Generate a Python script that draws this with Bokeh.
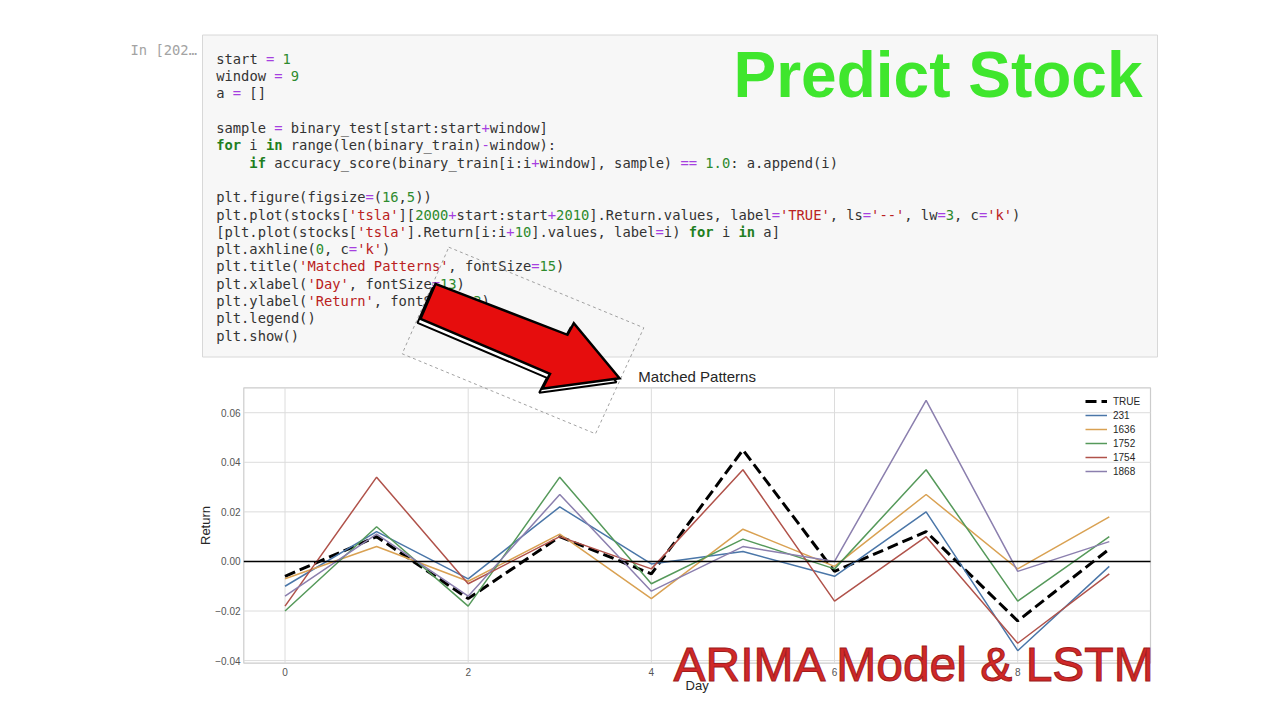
import re
import math
from bokeh.plotting import figure
from bokeh.models import Range1d, ColumnDataSource, Grid
from bokeh.core.properties import value
from bokeh.embed import file_html
from bokeh.resources import INLINE

# ---------------- data ----------------
days = list(range(10))
true_ret = [-0.006, 0.010, -0.015, 0.010, -0.005, 0.045, -0.004, 0.012, -0.024, 0.005]
ret_231 = [-0.010, 0.012, -0.007, 0.022, -0.001, 0.004, -0.006, 0.020, -0.036, -0.002]
ret_1636 = [-0.007, 0.006, -0.008, 0.011, -0.015, 0.013, -0.002, 0.027, -0.003, 0.018]
ret_1752 = [-0.020, 0.014, -0.018, 0.034, -0.009, 0.009, -0.003, 0.037, -0.016, 0.010]
ret_1754 = [-0.018, 0.034, -0.009, 0.010, -0.003, 0.037, -0.016, 0.010, -0.033, -0.005]
ret_1868 = [-0.014, 0.011, -0.014, 0.027, -0.012, 0.006, 0.000, 0.065, -0.004, 0.008]
pattern_labels = ["231", "1636", "1752", "1754", "1868"]
pattern_values = [ret_231, ret_1636, ret_1752, ret_1754, ret_1868]
pattern_colors = ["#4a76a8", "#d9a152", "#55995a", "#b0524a", "#8b7fae"]

x_ticks = [0, 2, 4, 6, 8]
x_tick_labels = ["0", "2", "4", "6", "8"]
y_ticks = [-0.04, -0.02, 0.0, 0.02, 0.04, 0.06]
y_tick_labels = ["\u22120.04", "\u22120.02", "0.00", "0.02", "0.04", "0.06"]

chart_title = "Matched Patterns"
x_label = "Day"
y_label = "Return"
headline = "Predict Stock"
footer = "ARIMA Model & LSTM"
prompt = "In [202\u2026"

code_lines = [
    "start = 1",
    "window = 9",
    "a = []",
    "",
    "sample = binary_test[start:start+window]",
    "for i in range(len(binary_train)-window):",
    "    if accuracy_score(binary_train[i:i+window], sample) == 1.0: a.append(i)",
    "",
    "plt.figure(figsize=(16,5))",
    "plt.plot(stocks['tsla'][2000+start:start+2010].Return.values, label='TRUE', ls='--', lw=3, c='k')",
    "[plt.plot(stocks['tsla'].Return[i:i+10].values, label=i) for i in a]",
    "plt.axhline(0, c='k')",
    "plt.title('Matched Patterns', fontSize=15)",
    "plt.xlabel('Day', fontSize=13)",
    "plt.ylabel('Return', fontSize=13)",
    "plt.legend()",
    "plt.show()",
]

# ---------------- layout (page pixels) ----------------
W, H = 1264, 704
PL, PT = 0, 0                     # where the canvas lands in the screenshot
AX_L, AX_R, AX_T, AX_B = 243.3, 1150.0, 387.3, 662.7

all_vals = true_ret + sum(pattern_values, [])
lo, hi = min(all_vals), max(all_vals)
ypad = 0.05 * (hi - lo)
ymin, ymax = lo - ypad, hi + ypad
xpad = 0.05 * (days[-1] - days[0])
xmin, xmax = days[0] - xpad, days[-1] + xpad

kx = (AX_R - AX_L) / (xmax - xmin)   # px per x unit
ky = (AX_B - AX_T) / (ymax - ymin)   # px per y unit
x_start = xmin - (AX_L - PL) / kx
x_end = xmax + (PL + W - AX_R) / kx
y_end = ymax + (AX_T - PT) / ky
y_start = ymin - (PT + H - AX_B) / ky

p = figure(width=W, height=H, x_range=Range1d(x_start, x_end), y_range=Range1d(y_start, y_end),
           output_backend="svg", toolbar_location=None,
           x_axis_location=None, y_axis_location=None, min_border=0,
           outline_line_color=None, background_fill_color="white", border_fill_color="white")
p.center = [r for r in p.center if not isinstance(r, Grid)]
p.extra_x_ranges = {"px": Range1d(PL, PL + W)}
p.extra_y_ranges = {"px": Range1d(PT + H, PT)}
PX = dict(x_range_name="px", y_range_name="px")

# ---------------- code cell ----------------
p.quad(left=202, right=1157, top=34.5, bottom=356.5, fill_color="#f7f7f7",
       line_color="#d8d8d8", line_width=1, **PX)
p.text(x=[130], y=[49], text=[prompt], text_font=value("DejaVu Sans Mono"),
       text_font_size="13.8px", text_color="#a3a3a3", text_baseline="middle", **PX)

CODE_X0, CH, CODE_Y0, DY = 215.7, 8.29, 58.3, 17.3
tok_re = re.compile(r"'[^']*'|\d+(?:\.\d+)?|==|[A-Za-z_]\w*|\s+|.")
KW = {"for", "in", "if"}
norm = dict(x=[], y=[], t=[], c=[])
bold = dict(x=[], y=[], t=[], c=[])
for row, line in enumerate(code_lines):
    for m in tok_re.finditer(line):
        tok = m.group(0)
        if tok.isspace():
            continue
        target = norm
        if tok.startswith("'"):
            col = "#ba2121"
        elif re.fullmatch(r"\d+(?:\.\d+)?", tok):
            col = "#2e8b2e"
        elif tok in KW:
            col = "#1f7f1f"
            target = bold
        elif tok in ("=", "==", "+", "-"):
            col = "#a640e0"
        else:
            col = "#333333"
        target["x"].append(CODE_X0 + m.start() * CH)
        target["y"].append(CODE_Y0 + row * DY)
        target["t"].append(tok)
        target["c"].append(col)

p.text(x="x", y="y", text="t", text_color="c", source=ColumnDataSource(norm),
       text_font=value("DejaVu Sans Mono"), text_font_size="13.8px",
       text_baseline="middle", **PX)
p.text(x="x", y="y", text="t", text_color="c", source=ColumnDataSource(bold),
       text_font=value("DejaVu Sans Mono"), text_font_size="13.8px", text_font_style="bold",
       text_baseline="middle", **PX)

p.text(x=[733], y=[74.5], text=[headline], text_font=value("Liberation Sans"),
       text_font_style="bold", text_font_size="64px", text_color="#3fe62d",
       text_baseline="middle", **PX)

# ---------------- chart ----------------
p.quad(left=xmin, right=xmax, bottom=ymin, top=ymax, fill_color="white",
       line_color="#cccccc", line_width=1.2)
p.segment(x0=x_ticks, y0=[ymin] * len(x_ticks), x1=x_ticks, y1=[ymax] * len(x_ticks),
          line_color="#dcdcdc", line_width=1)
p.segment(x0=[xmin] * len(y_ticks), y0=y_ticks, x1=[xmax] * len(y_ticks), y1=y_ticks,
          line_color="#dcdcdc", line_width=1)

p.line(days, true_ret, line_color="black", line_width=3, line_dash="11 5", legend_label="TRUE")
for lab, vals, col in zip(pattern_labels, pattern_values, pattern_colors):
    p.line(days, vals, line_color=col, line_width=1.5, legend_label=lab)
p.segment(x0=[xmin], y0=[0], x1=[xmax], y1=[0], line_color="black", line_width=1.5)

TICK_FONT = value("Liberation Sans")
p.text(x=x_ticks, y=[ymin - 8.3 / ky] * len(x_ticks), text=x_tick_labels,
       text_font=TICK_FONT, text_font_size="10px", text_color="#555555",
       text_align="center", text_baseline="middle")
p.text(x=[xmin - 3.3 / kx] * len(y_ticks), y=y_ticks, text=y_tick_labels,
       text_font=TICK_FONT, text_font_size="10px", text_color="#555555",
       text_align="right", text_baseline="middle")
p.text(x=[(xmin + xmax) / 2], y=[ymax + 11.3 / ky], text=[chart_title],
       text_font=TICK_FONT, text_font_size="15px", text_color="#262626",
       text_align="center", text_baseline="middle")
p.text(x=[xmin - 38.3 / kx], y=[(ymin + ymax) / 2], text=[y_label], angle=math.pi / 2,
       text_font=TICK_FONT, text_font_size="13px", text_color="#262626",
       text_align="center", text_baseline="middle")

lg = p.legend[0]
lg.location = (1085 - PL, PT + H - 478)
lg.label_text_font = "Liberation Sans"
lg.label_text_font_size = "10px"
lg.label_text_color = "#262626"
lg.glyph_width = 22
lg.glyph_height = 14
lg.label_height = 14
lg.label_standoff = 6
lg.spacing = 0
lg.padding = 0
lg.margin = 0
lg.background_fill_alpha = 0
lg.border_line_alpha = 0

# ---------------- arrow decoration ----------------
p.patch(x=[448.3, 643.3, 595.0, 401.7], y=[246.7, 327.3, 433.3, 353.3],
        fill_alpha=0, line_color="#8a8a8a", line_width=0.8, line_dash="3 3", **PX)
arrow_x = [435.0, 567.0, 573.3, 619.0, 541.7, 549.5, 420.0]
arrow_y = [283.3, 334.3, 322.7, 377.7, 388.3, 373.3, 318.3]
p.patch(x=[v - 3 for v in arrow_x], y=[v + 4 for v in arrow_y], fill_color="white",
        line_color="black", line_width=2, **PX)
p.patch(x=arrow_x, y=arrow_y, fill_color="#e60d0d", line_color="black",
        line_width=2.5, line_join="miter", **PX)

# ---------------- footer text ----------------
p.text(x=[673], y=[664], text=[footer], text_font=value("Liberation Sans"),
       text_font_size="48px", text_color="#d02828", text_outline_color="#a01c1c",
       text_baseline="middle", **PX)
p.text(x=[(xmin + xmax) / 2], y=[ymin - 22.5 / ky], text=[x_label],
       text_font=TICK_FONT, text_font_size="13px", text_color="#262626",
       text_align="center", text_baseline="middle")

open("out.html", "w").write(file_html(p, INLINE))
